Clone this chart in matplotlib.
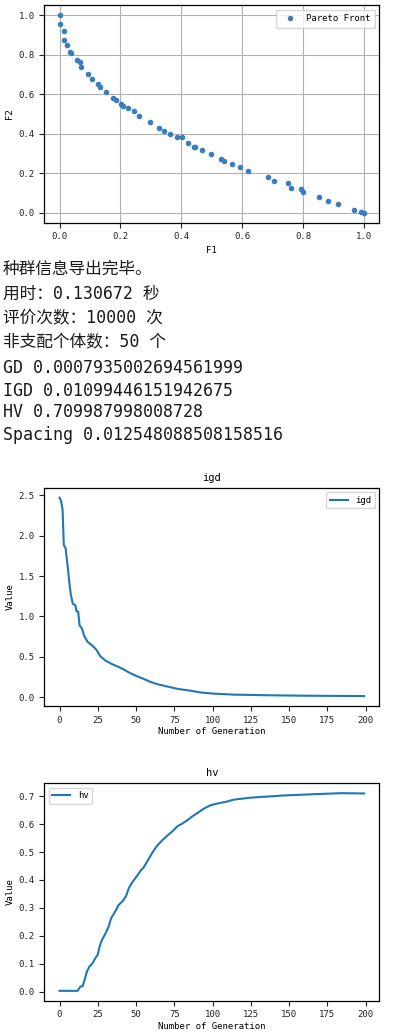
import matplotlib
matplotlib.use("Agg")
import matplotlib.pyplot as plt

# ---------------- data ----------------
pf_f1 = [0.000, 0.003, 0.016, 0.016, 0.026, 0.036, 0.039, 0.056, 0.066, 0.072,
         0.092, 0.108, 0.125, 0.134, 0.154, 0.177, 0.184, 0.203, 0.210, 0.226,
         0.243, 0.262, 0.298, 0.325, 0.344, 0.364, 0.387, 0.403, 0.423, 0.443,
         0.446, 0.469, 0.498, 0.531, 0.541, 0.567, 0.593, 0.620, 0.685, 0.705,
         0.751, 0.761, 0.793, 0.800, 0.852, 0.882, 0.915, 0.967, 0.990, 1.000]
pf_f2 = [1.002, 0.957, 0.922, 0.876, 0.851, 0.815, 0.810, 0.774, 0.764, 0.739,
         0.703, 0.678, 0.653, 0.637, 0.612, 0.582, 0.572, 0.551, 0.541, 0.531,
         0.516, 0.491, 0.460, 0.430, 0.415, 0.400, 0.384, 0.384, 0.354, 0.334,
         0.334, 0.319, 0.298, 0.273, 0.263, 0.248, 0.233, 0.213, 0.182, 0.162,
         0.152, 0.127, 0.122, 0.107, 0.081, 0.061, 0.046, 0.015, 0.005, 0.000]

igd_gen = [0, 1, 2, 2.8, 3.9, 5.2, 6.6, 7.4, 8.7, 10.3, 11.1, 12.2, 13.1, 14.7,
           16.2, 18.4, 21.2, 24, 26.7, 30, 34.3, 38.7, 42.4, 46.3, 50.7, 55,
           59.5, 63.4, 65.5, 70, 77, 86, 92, 101, 114, 136, 158, 199]
igd_val = [2.47, 2.43, 2.32, 1.88, 1.85, 1.64, 1.39, 1.27, 1.155, 1.14, 1.065,
           1.06, 0.89, 0.85, 0.755, 0.685, 0.643, 0.59, 0.507, 0.454, 0.41,
           0.375, 0.34, 0.297, 0.26, 0.227, 0.19, 0.165, 0.155, 0.135, 0.105,
           0.08, 0.06, 0.045, 0.033, 0.025, 0.02, 0.015]

hv_gen = [0, 11.8, 13.6, 15.1, 16.4, 17.9, 19.5, 21.6, 23.4, 24.9, 26.2, 27.8,
          29.9, 32.1, 33.7, 36.1, 38.7, 41.5, 43.5, 45.3, 47.9, 50.7, 52.9, 55.1,
          57.7, 60.5, 63.8, 67.1, 70.4, 73.7, 76.9, 80.2, 83.5, 86.8, 90.7, 94.4,
          98.8, 103.2, 108.6, 114, 125, 147, 169, 184, 199]
hv_val = [0.003, 0.003, 0.018, 0.02, 0.042, 0.072, 0.09, 0.102, 0.12, 0.132,
          0.162, 0.186, 0.207, 0.233, 0.263, 0.284, 0.311, 0.326, 0.343, 0.371,
          0.395, 0.415, 0.433, 0.446, 0.47, 0.497, 0.523, 0.542, 0.559, 0.574,
          0.592, 0.602, 0.614, 0.628, 0.642, 0.656, 0.668, 0.674, 0.68, 0.688,
          0.695, 0.703, 0.708, 0.711, 0.710]

info_lines = ["种群信息导出完毕。",
              "用时：0.130672 秒",
              "评价次数：10000 次",
              "非支配个体数：50 个",
              "GD 0.0007935002694561999",
              "IGD 0.01099446151942675",
              "HV 0.709987998008728",
              "Spacing 0.012548088508158516"]

# ---------------- style ----------------
W, H = 395, 1036
fig = plt.figure(figsize=(W / 100, H / 100), dpi=100)
plot_font = ['DejaVu Sans Mono', 'Noto Sans CJK SC']
plt.rcParams['font.family'] = plot_font
plt.rcParams['font.size'] = 6.5
plt.rcParams['axes.linewidth'] = 0.9
plt.rcParams['xtick.labelsize'] = 6.5
plt.rcParams['ytick.labelsize'] = 6.5
plt.rcParams['xtick.color'] = '#222222'
plt.rcParams['ytick.color'] = '#222222'


def ax_at(left, top, right, bottom):
    return fig.add_axes([left / W, 1 - bottom / H, (right - left) / W, (bottom - top) / H])


# Pareto front
ax1 = ax_at(44.3, 5, 379.3, 222.7)
ax1.plot(pf_f1, pf_f2, 'o', markersize=3, color='#3a7ebf', label='Pareto Front')
ax1.set_xlabel('F1', labelpad=3)
ax1.set_ylabel('F2', labelpad=3)
ax1.grid(True, color='#b0b0b0', linewidth=0.8)
ax1.set_axisbelow(True)
ax1.legend(loc='upper right', fontsize=6.5, handletextpad=0.8, borderpad=0.5)

# info text
ys = [268.3, 293.3, 318, 342.7, 368.3, 391, 412.3, 435]
for line, y in zip(info_lines, ys):
    fig.text(3 / W, 1 - y / H, line, fontsize=12, va='center', ha='left',
             family=['DejaVu Sans Mono', 'Noto Sans CJK SC'], color='#1a1a1a')

# IGD
ax2 = ax_at(44.3, 487.7, 379.3, 706)
ax2.plot(igd_gen, igd_val, color='#1f77b4', linewidth=1.5, label='igd')
ax2.set_title('igd', fontsize=7.5, pad=5)
ax2.set_xlabel('Number of Generation', labelpad=2)
ax2.set_ylabel('Value', labelpad=3)
ax2.set_xticks([0, 25, 50, 75, 100, 125, 150, 175, 200])
ax2.legend(loc='upper right', fontsize=6.5)

# HV
ax3 = ax_at(44.3, 783.3, 379.3, 1000.7)
ax3.plot(hv_gen, hv_val, color='#1f77b4', linewidth=1.5, label='hv')
ax3.set_title('hv', fontsize=7.5, pad=5)
ax3.set_xlabel('Number of Generation', labelpad=2)
ax3.set_ylabel('Value', labelpad=3)
ax3.set_xticks([0, 25, 50, 75, 100, 125, 150, 175, 200])
ax3.legend(loc='upper left', fontsize=6.5)

fig.savefig('out.png', dpi=100)
